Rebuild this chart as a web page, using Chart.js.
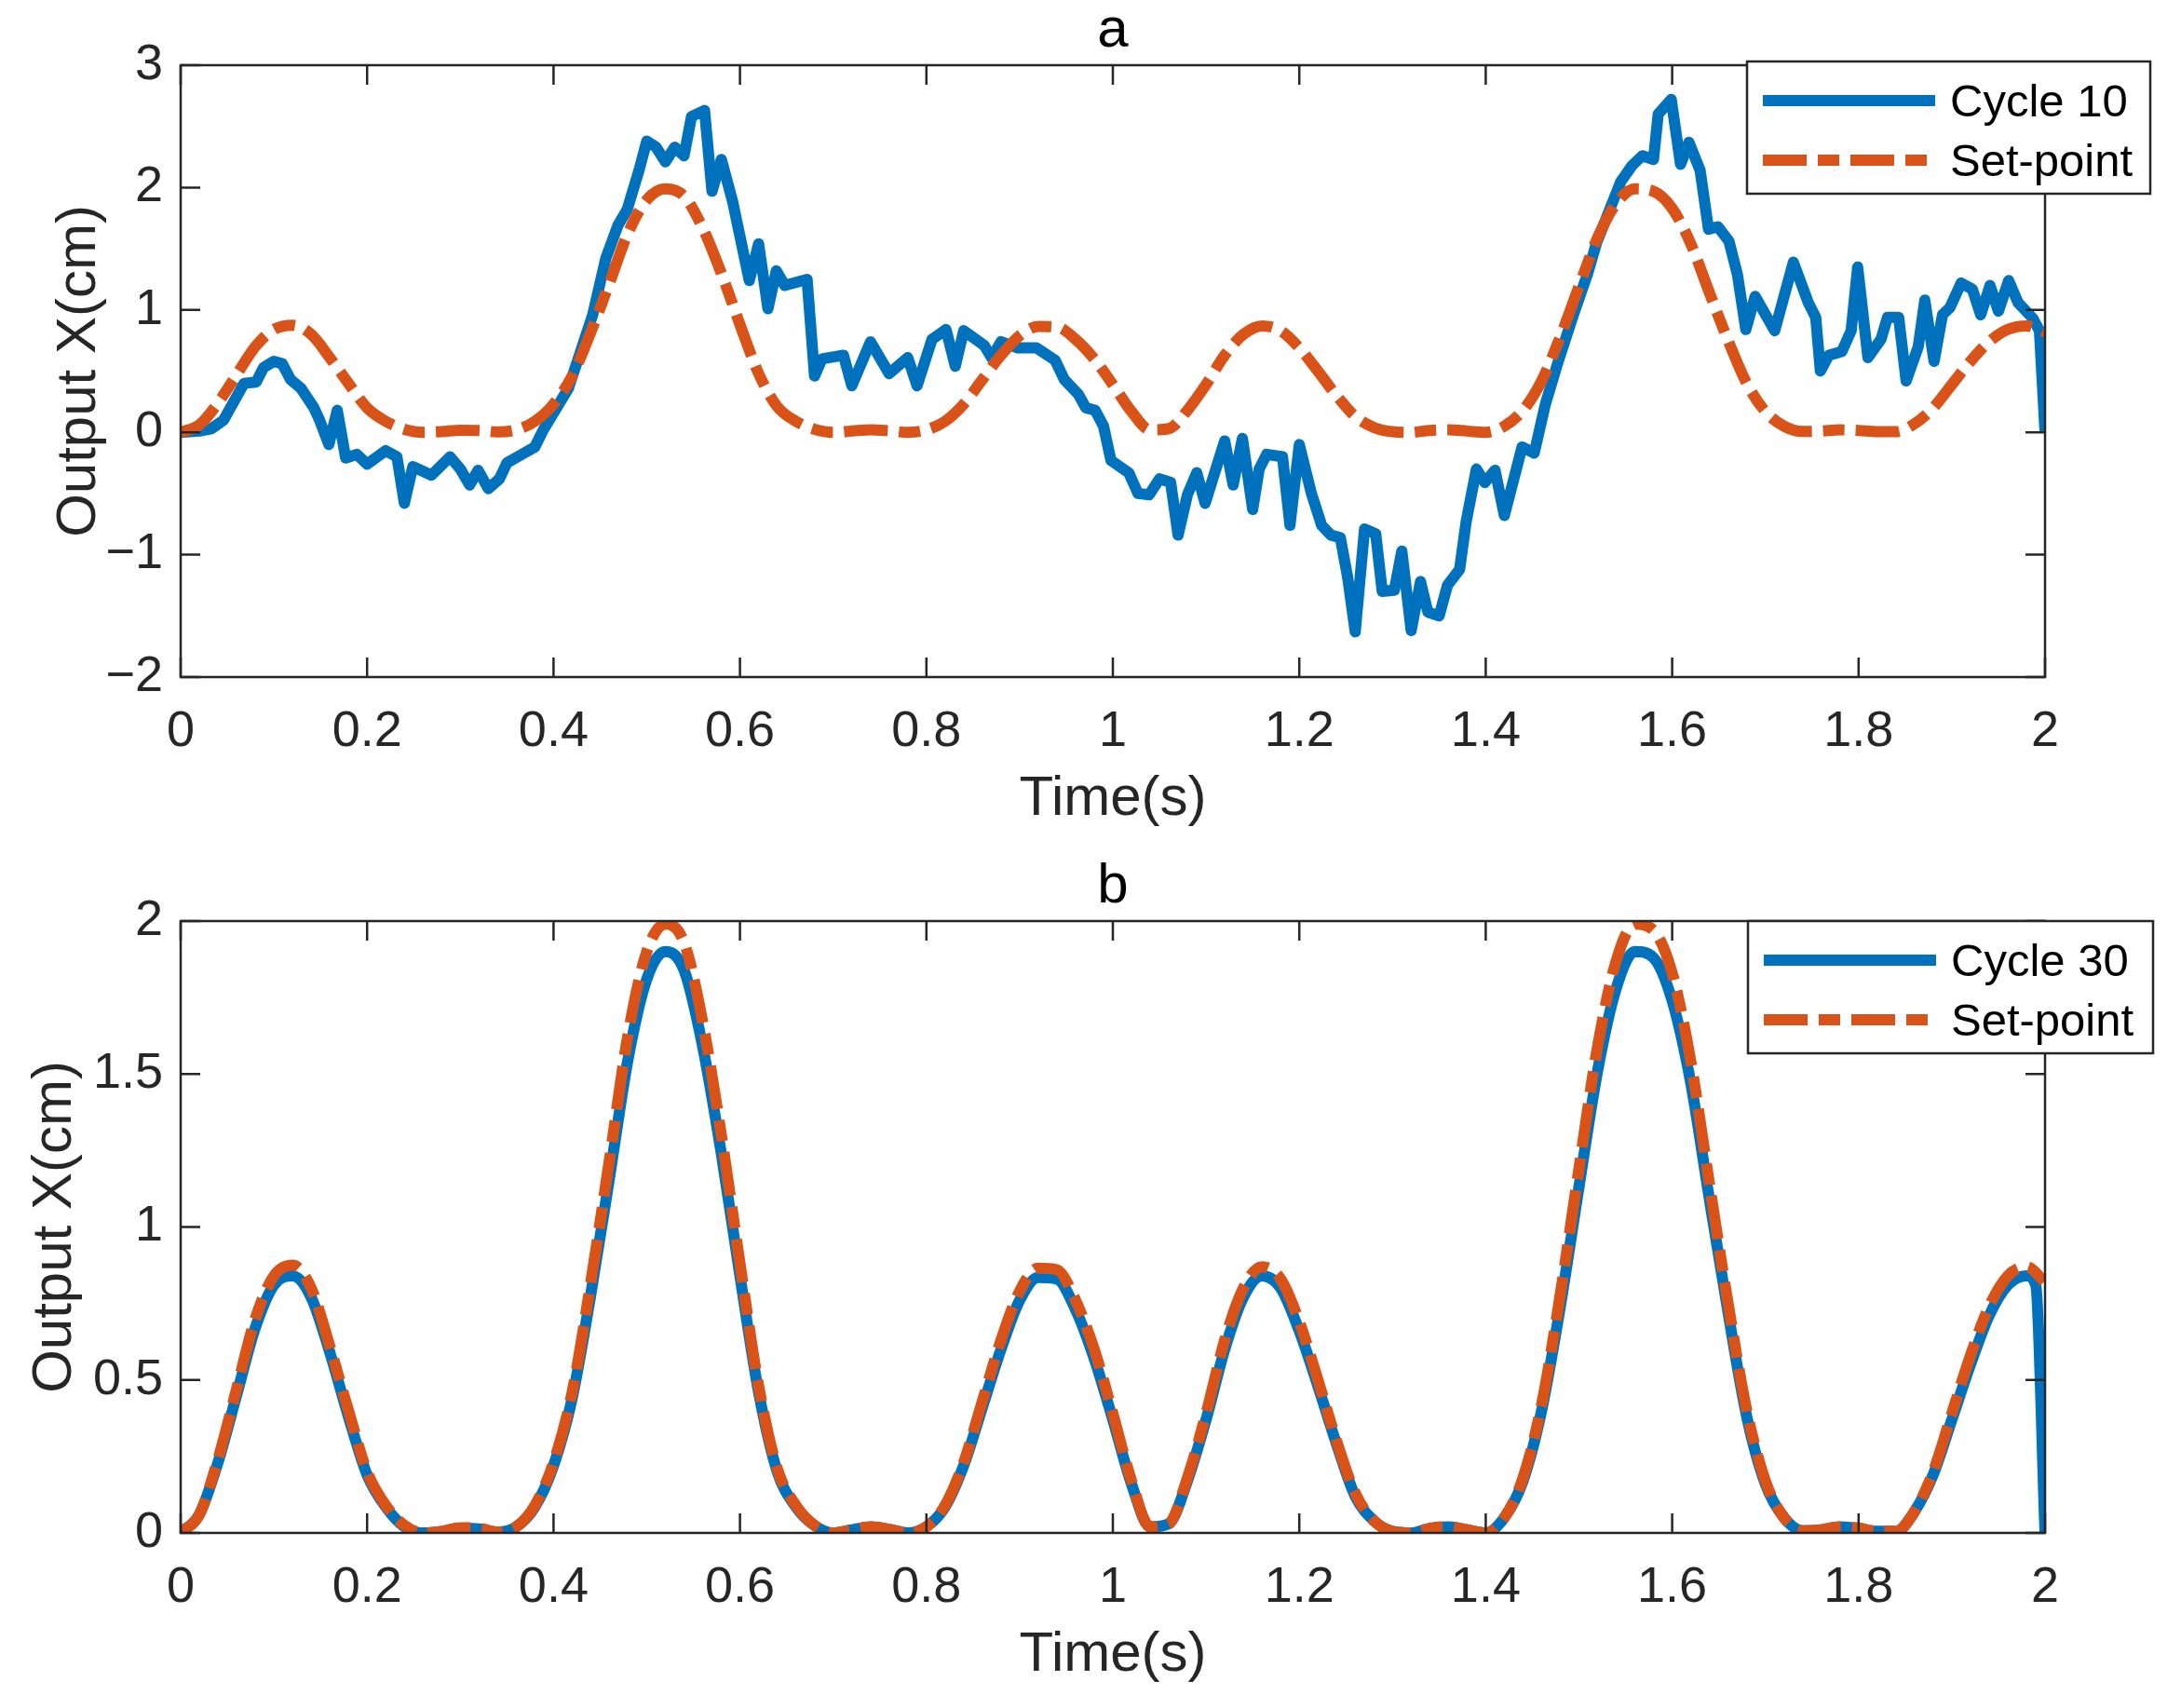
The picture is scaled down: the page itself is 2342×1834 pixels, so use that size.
<!DOCTYPE html>
<html>
<head>
<meta charset="utf-8">
<script src="https://cdn.jsdelivr.net/npm/chart.js@4.4.1/dist/chart.umd.min.js"></script>
<style>
  html, body { margin: 0; padding: 0; background: #fff; overflow: hidden; }
  #wrap { position: relative; width: 2342px; height: 1834px; }
  canvas { position: absolute; left: 0; }
</style>
</head>
<body>
<div id="wrap">
  <canvas id="chartA" width="2342" height="917" style="top:0"></canvas>
  <canvas id="chartB" width="2342" height="917" style="top:919px"></canvas>
</div>
<script>
// ---- data ----
const xTicks = [0, 0.2, 0.4, 0.6, 0.8, 1, 1.2, 1.4, 1.6, 1.8, 2];
const yTicksA = [-2, -1, 0, 1, 2, 3];
const yTicksB = [0, 0.5, 1, 1.5, 2];

// set-point trajectory (both panels)
const spTime = [
  0, 0.02, 0.04, 0.06, 0.08, 0.1, 0.12, 0.14, 0.16, 0.18,
  0.2, 0.22, 0.24, 0.26, 0.28, 0.3, 0.32, 0.34, 0.36, 0.38,
  0.4, 0.42, 0.44, 0.46, 0.48, 0.5, 0.52, 0.54, 0.56, 0.58,
  0.6, 0.62, 0.64, 0.66, 0.68, 0.7, 0.72, 0.74, 0.76, 0.78,
  0.8, 0.82, 0.84, 0.86, 0.88, 0.9, 0.92, 0.94, 0.96, 0.98,
  1, 1.02, 1.04, 1.06, 1.08, 1.1, 1.12, 1.14, 1.16, 1.18,
  1.2, 1.22, 1.24, 1.26, 1.28, 1.3, 1.32, 1.34, 1.36, 1.38,
  1.4, 1.42, 1.44, 1.46, 1.48, 1.5, 1.52, 1.54, 1.56, 1.58,
  1.6, 1.62, 1.64, 1.66, 1.68, 1.7, 1.72, 1.74, 1.76, 1.78,
  1.8, 1.82, 1.84, 1.86, 1.88, 1.9, 1.92, 1.94, 1.96, 1.98,
  2
];
const setPoint = [
  0, 0.06, 0.24, 0.47, 0.70, 0.84, 0.875, 0.80, 0.61, 0.40,
  0.20, 0.09, 0.025, 0, 0.005, 0.017, 0.015, 0.003, 0.02, 0.09,
  0.23, 0.46, 0.82, 1.22, 1.63, 1.90, 1.99, 1.93, 1.67, 1.30,
  0.88, 0.48, 0.21, 0.09, 0.025, 0, 0.01, 0.02, 0.012, 0,
  0.02, 0.09, 0.23, 0.43, 0.63, 0.79, 0.865, 0.86, 0.76, 0.60,
  0.39, 0.17, 0.02, 0.03, 0.18, 0.39, 0.63, 0.80, 0.87, 0.83,
  0.69, 0.50, 0.30, 0.13, 0.04, 0.005, 0, 0.015, 0.02, 0.01,
  0, 0.05, 0.18, 0.42, 0.78, 1.19, 1.59, 1.87, 1.99, 1.97,
  1.83, 1.54, 1.14, 0.75, 0.40, 0.17, 0.05, 0.007, 0.01, 0.02,
  0.015, 0.005, 0.005, 0.07, 0.20, 0.39, 0.58, 0.74, 0.84, 0.87,
  0.82
];

// cycle 10 output (panel a)
const time10 = [
  0, 0.02, 0.033, 0.046, 0.057, 0.068, 0.081, 0.089, 0.1, 0.109,
  0.118, 0.129, 0.143, 0.149, 0.159, 0.168, 0.177, 0.189, 0.2, 0.22,
  0.232, 0.24, 0.249, 0.269, 0.289, 0.3, 0.31, 0.319, 0.33, 0.342,
  0.35, 0.366, 0.38, 0.389, 0.416, 0.442, 0.456, 0.469, 0.479, 0.492,
  0.5, 0.51, 0.52, 0.53, 0.54, 0.548, 0.562, 0.57, 0.58, 0.592,
  0.61, 0.62, 0.63, 0.639, 0.648, 0.672, 0.68, 0.688, 0.711, 0.72,
  0.74, 0.76, 0.78, 0.79, 0.806, 0.821, 0.831, 0.84, 0.862, 0.87,
  0.88, 0.898, 0.918, 0.938, 0.948, 0.963, 0.971, 0.981, 0.99, 0.998,
  1.017, 1.027, 1.039, 1.05, 1.062, 1.07, 1.08, 1.09, 1.099, 1.12,
  1.129, 1.139, 1.15, 1.157, 1.165, 1.182, 1.19, 1.2, 1.213, 1.224,
  1.234, 1.244, 1.252, 1.26, 1.27, 1.282, 1.289, 1.302, 1.31, 1.32,
  1.33, 1.338, 1.35, 1.359, 1.372, 1.379, 1.39, 1.399, 1.41, 1.42,
  1.439, 1.452, 1.464, 1.477, 1.494, 1.509, 1.519, 1.533, 1.545, 1.557,
  1.568, 1.58, 1.585, 1.599, 1.609, 1.618, 1.63, 1.639, 1.649, 1.661,
  1.67, 1.679, 1.689, 1.71, 1.73, 1.746, 1.754, 1.759, 1.768, 1.782,
  1.792, 1.799, 1.81, 1.824, 1.831, 1.843, 1.851, 1.864, 1.871, 1.881,
  1.89, 1.898, 1.91, 1.922, 1.931, 1.941, 1.95, 1.961, 1.971, 1.987,
  1.994, 2
];
const cycle10 = [
  0, 0.01, 0.03, 0.1, 0.25, 0.4, 0.41, 0.53, 0.58, 0.56,
  0.43, 0.36, 0.2, 0.1, -0.1, 0.18, -0.21, -0.18, -0.26, -0.15,
  -0.2, -0.58, -0.28, -0.35, -0.2, -0.3, -0.43, -0.31, -0.46, -0.38,
  -0.25, -0.18, -0.12, 0.02, 0.36, 0.96, 1.42, 1.69, 1.82, 2.15,
  2.38, 2.33, 2.21, 2.33, 2.26, 2.58, 2.63, 1.97, 2.23, 1.89,
  1.24, 1.54, 1.01, 1.32, 1.2, 1.25, 0.46, 0.6, 0.63, 0.38,
  0.74, 0.48, 0.61, 0.38, 0.76, 0.84, 0.54, 0.83, 0.71, 0.61,
  0.74, 0.69, 0.69, 0.59, 0.43, 0.31, 0.2, 0.18, 0.05, -0.23,
  -0.33, -0.5, -0.51, -0.38, -0.41, -0.84, -0.51, -0.33, -0.58, -0.07,
  -0.43, -0.05, -0.63, -0.3, -0.18, -0.2, -0.76, -0.1, -0.5, -0.76,
  -0.84, -0.86, -1.19, -1.63, -0.79, -0.83, -1.3, -1.29, -0.97, -1.62,
  -1.22, -1.47, -1.5, -1.25, -1.12, -0.73, -0.3, -0.41, -0.31, -0.68,
  -0.12, -0.17, 0.23, 0.56, 0.96, 1.29, 1.55, 1.82, 2.05, 2.18,
  2.26, 2.23, 2.6, 2.72, 2.19, 2.37, 2.14, 1.66, 1.68, 1.56,
  1.29, 0.84, 1.11, 0.83, 1.39, 1.06, 0.94, 0.5, 0.63, 0.66,
  0.83, 1.35, 0.61, 0.76, 0.94, 0.94, 0.42, 0.7, 1.08, 0.58,
  0.96, 1.02, 1.22, 1.17, 0.96, 1.2, 0.99, 1.24, 1.06, 0.93,
  0.83, 0
];

// cycle 30 output (panel b)
const time30 = spTime.slice(0, 100).concat([1.99, 2]);
const cycle30 = [
  0, 0.06, 0.23, 0.45, 0.67, 0.81, 0.84, 0.77, 0.59, 0.38,
  0.19, 0.085, 0.02, 0, 0.005, 0.015, 0.013, 0.003, 0.02, 0.085,
  0.22, 0.44, 0.78, 1.16, 1.55, 1.81, 1.90, 1.84, 1.59, 1.24,
  0.84, 0.46, 0.20, 0.085, 0.024, 0, 0.01, 0.02, 0.012, 0,
  0.02, 0.085, 0.22, 0.41, 0.60, 0.76, 0.835, 0.83, 0.73, 0.57,
  0.37, 0.16, 0.02, 0.03, 0.17, 0.37, 0.60, 0.77, 0.84, 0.80,
  0.66, 0.48, 0.29, 0.12, 0.04, 0.005, 0, 0.015, 0.02, 0.01,
  0, 0.05, 0.17, 0.40, 0.74, 1.13, 1.51, 1.78, 1.90, 1.88,
  1.74, 1.47, 1.09, 0.72, 0.38, 0.16, 0.05, 0.007, 0.01, 0.02,
  0.015, 0.005, 0.005, 0.07, 0.19, 0.37, 0.55, 0.71, 0.81, 0.84,
  0.81, 0
];

// ---- styling ----
const FONT = '"Liberation Sans", Arial, Helvetica, sans-serif';
const AXIS_COLOR = '#262626';
const BLUE = '#0072BD';
const ORANGE = '#D95319';
const LINE_W = 12;
const DASH = [47, 12, 23, 12];

Chart.defaults.font.family = FONT;

const pts = (xs, ys) => xs.map((x, i) => ({x: x, y: ys[i]}));
const fmt = v => (v < 0 ? '\u2212' + Math.abs(v) : String(v));

// centre the panel title over the axes, not the whole canvas
const titleOverAxes = {
  id: 'titleOverAxes',
  afterLayout(chart) {
    const tb = chart.titleBlock;
    if (!tb) return;
    tb.left = chart.chartArea.left;
    tb.right = chart.chartArea.right;
    tb.width = tb.right - tb.left;
  }
};

// MATLAB style box with inward ticks on all four sides
const axisBox = {
  id: 'axisBox',
  afterDatasetsDraw(chart) {
    const {ctx, chartArea: a, scales: {x, y}} = chart;
    const tl = 21;
    ctx.save();
    ctx.strokeStyle = AXIS_COLOR;
    ctx.lineWidth = 2.5;
    ctx.beginPath();
    x.ticks.forEach(t => {
      const px = x.getPixelForValue(t.value);
      ctx.moveTo(px, a.bottom); ctx.lineTo(px, a.bottom - tl);
      ctx.moveTo(px, a.top); ctx.lineTo(px, a.top + tl);
    });
    y.ticks.forEach(t => {
      const py = y.getPixelForValue(t.value);
      ctx.moveTo(a.left, py); ctx.lineTo(a.left + tl, py);
      ctx.moveTo(a.right, py); ctx.lineTo(a.right - tl, py);
    });
    ctx.stroke();
    ctx.strokeRect(a.left, a.top, a.right - a.left, a.bottom - a.top);
    ctx.restore();
  }
};

// boxed legend drawn inside the axes, top right
const boxLegend = {
  id: 'boxLegend',
  afterDraw(chart, args, opts) {
    const {ctx} = chart;
    const b = opts.box;
    ctx.save();
    ctx.fillStyle = '#fff';
    ctx.fillRect(b[0], b[1], b[2], b[3]);
    ctx.strokeStyle = AXIS_COLOR;
    ctx.lineWidth = 2.5;
    ctx.strokeRect(b[0], b[1], b[2], b[3]);
    chart.data.datasets.forEach((ds, i) => {
      const yy = b[1] + 42 + i * 64;
      ctx.beginPath();
      ctx.lineWidth = ds.borderWidth;
      ctx.strokeStyle = ds.borderColor;
      ctx.setLineDash(ds.borderDash || []);
      ctx.moveTo(b[0] + 17, yy);
      ctx.lineTo(b[0] + 202, yy);
      ctx.stroke();
      ctx.setLineDash([]);
      ctx.fillStyle = '#000';
      ctx.font = '49px ' + FONT;
      ctx.textBaseline = 'middle';
      ctx.textAlign = 'left';
      ctx.fillText(ds.label, b[0] + 218, yy + 3);
    });
    ctx.restore();
  }
};

function makeChart(id, cfg) {
  return new Chart(document.getElementById(id), {
    type: 'line',
    data: {
      datasets: [{
        label: cfg.label,
        data: cfg.main,
        borderColor: BLUE,
        borderWidth: LINE_W,
        borderJoinStyle: 'round',
        pointRadius: 0,
        tension: 0,
        cubicInterpolationMode: cfg.smooth ? 'monotone' : 'default',
        order: 2
      }, {
        label: 'Set-point',
        data: pts(spTime, setPoint),
        borderColor: ORANGE,
        borderWidth: LINE_W,
        borderDash: DASH,
        borderJoinStyle: 'round',
        pointRadius: 0,
        cubicInterpolationMode: 'monotone',
        order: 1
      }]
    },
    options: {
      responsive: false,
      devicePixelRatio: 1,
      animation: false,
      layout: {padding: {left: 0, right: 146, top: 0, bottom: 0}},
      plugins: {
        legend: {display: false},
        tooltip: {enabled: false},
        title: {
          display: true,
          text: cfg.title,
          color: '#000',
          font: {size: 60, weight: 'normal', lineHeight: 1},
          padding: {top: 3.5, bottom: 6.5}
        },
        boxLegend: {box: cfg.legendBox}
      },
      scales: {
        x: {
          type: 'linear',
          min: 0,
          max: 2,
          grid: {display: false, drawTicks: false},
          border: {display: false},
          afterBuildTicks: s => { s.ticks = xTicks.map(v => ({value: v})); },
          afterFit: s => { s.height = 190; },
          ticks: {
            autoSkip: false,
            maxRotation: 0,
            padding: 27,
            color: AXIS_COLOR,
            font: {size: 54},
            callback: v => fmt(v)
          },
          title: {
            display: true,
            text: 'Time(s)',
            color: AXIS_COLOR,
            font: {size: 60, lineHeight: 1},
            padding: {top: 0, bottom: 29}
          }
        },
        y: {
          type: 'linear',
          min: cfg.yTicks[0],
          max: cfg.yTicks[cfg.yTicks.length - 1],
          grid: {display: false, drawTicks: false},
          border: {display: false},
          afterBuildTicks: s => { s.ticks = cfg.yTicks.map(v => ({value: v})); },
          afterFit: s => { s.width = 194; },
          ticks: {
            padding: 19,
            color: AXIS_COLOR,
            font: {size: 54},
            callback: v => fmt(v)
          },
          title: {
            display: true,
            text: 'Output X(cm)',
            color: AXIS_COLOR,
            font: {size: 60, lineHeight: 1},
            padding: {top: cfg.yTitlePad, bottom: 0}
          }
        }
      }
    },
    plugins: [titleOverAxes, axisBox, boxLegend]
  });
}

makeChart('chartA', {
  title: 'a',
  label: 'Cycle 10',
  main: pts(time10, cycle10),
  smooth: false,
  yTicks: yTicksA,
  yTitlePad: 55,
  legendBox: [1876, 66, 433, 142]
});

makeChart('chartB', {
  title: 'b',
  label: 'Cycle 30',
  main: pts(time30, cycle30),
  smooth: true,
  yTicks: yTicksB,
  yTitlePad: 29,
  legendBox: [1877, 70, 435, 142]
});
</script>
</body>
</html>
